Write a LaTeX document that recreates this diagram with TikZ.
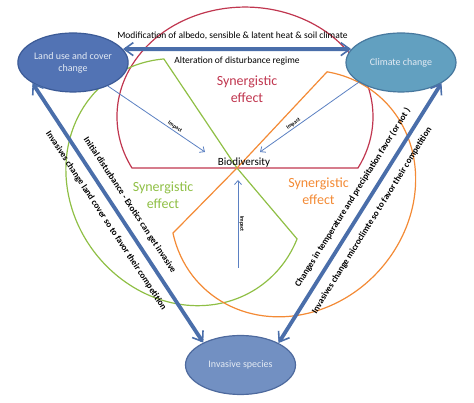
\documentclass[tikz,border=0pt]{standalone}
\usepackage{fontspec}
\setmainfont{Carlito}
\usetikzlibrary{arrows.meta,shapes.geometric}
\definecolor{landfill}{HTML}{5273B4}
\definecolor{landedge}{HTML}{3B5A96}
\definecolor{climfill}{HTML}{62A0C0}
\definecolor{climedge}{HTML}{47789E}
\definecolor{invfill}{HTML}{7290C2}
\definecolor{invedge}{HTML}{4E6A9E}
\definecolor{blobtext}{HTML}{E4EBF4}
\definecolor{arrowblue}{HTML}{4A6EAA}
\definecolor{impblue}{HTML}{5B80C2}
\definecolor{synred}{HTML}{C0364F}
\definecolor{syngreen}{HTML}{8FBF45}
\definecolor{synorange}{HTML}{F38A35}
\begin{document}
\begin{tikzpicture}[x=1pt,y=1pt,
  blob/.style={ellipse,minimum width=110pt,minimum height=59pt,inner sep=0pt,line width=1.2pt,
    text=blobtext,align=center,font=\fontsize{10}{12}\selectfont},
  bigarrow/.style={draw=arrowblue,line width=3.8pt,>={Straight Barb[length=9pt,width=13pt,line width=1.6pt]},<->},
  arrlbl/.style={sloped,font=\fontsize{9}{11}\selectfont\bfseries},
  toplbl/.style={font=\fontsize{9.5}{11}\selectfont},
  impact/.style={draw=impblue,line width=.8pt,-{Straight Barb[length=4pt,width=7pt]}},
  implbl/.style={inner sep=1pt,font=\fontsize{5.5}{6}\selectfont\bfseries},
  seg/.style={line width=1.2pt},
  syn/.style={align=center,font=\fontsize{14}{16.6}\selectfont}]
\useasboundingbox (0,0) rectangle (474,403);
\coordinate (hub) at (237,235);
\begin{scope}[shift={(245,235)}]
\draw[seg,draw=synred] (113,0) arc[start angle=-28,end angle=208,x radius=128pt,y radius=109.5pt] -- (hub) -- cycle;
\end{scope}
\begin{scope}[shift={(230.5,254)},rotate=126.5]
\draw[seg,draw=syngreen] (112,0) arc[start angle=-29,end angle=209,x radius=128pt,y radius=115pt] -- (hub) -- cycle;
\end{scope}
\begin{scope}[shift={(250,250.5)},rotate=-133.7]
\draw[seg,draw=synorange] (111.5,0) arc[start angle=-30.9,end angle=210.9,x radius=130pt,y radius=115.6pt] -- (hub) -- cycle;
\end{scope}
\node[blob,fill=landfill,draw=landedge] (land) at (73,340.5) {Land use and cover\\change};
\node[blob,fill=climfill,draw=climedge] (clim) at (401,340.5) {Climate change};
\node[blob,fill=invfill,draw=invedge] (inv) at (240.5,38) {Invasive species};
\node[font=\fontsize{11}{13}\selectfont] (bio) at (244,240.3) {Biodiversity};
\node[syn,text=synred] (synr) at (247,314) {Synergistic\\effect};
\node[syn,text=syngreen] (syng) at (163,207.5) {Synergistic\\effect};
\node[syn,text=synorange] (syno) at (318.5,212) {Synergistic\\effect};
\draw[bigarrow] (land.15) -- (clim.165)
  node[toplbl,pos=.48,above=4.5pt] (modif) {Modification of albedo, sensible \& latent heat \& soil climate}
  node[toplbl,midway,below=3pt] (alter) {Alteration of disturbance regime};
\draw[bigarrow] (land.207) -- (inv.149)
  node[arrlbl,midway,above=5pt] (initial) {Initial disturbance - Exotics can get invasive}
  node[arrlbl,midway,below=5pt] (invland) {Invasives change land cover so to favor their competition};
\draw[bigarrow] (inv.30) -- (clim.333)
  node[arrlbl,pos=.53,above=5pt] (temp) {Changes in temperature and precipitation favor (or not )}
  node[arrlbl,pos=.5,below=5pt] (invclim) {Invasives change microclimte so to favor their competition};
\coordinate (impw) at (205,251);
\coordinate (impe) at (260,251);
\coordinate (impn) at (238,223);
\coordinate (imps) at (238,135);
\draw[impact] (land.-34) -- (impw) node[implbl,sloped,above,pos=.67] (impwl) {Impact};
\draw[impact] (clim.205) -- (impe) node[implbl,sloped,above,pos=.64] (impel) {Impact};
\draw[impact] (imps) -- (impn) node[implbl,rotate=-90,anchor=south,midway] (impsl) {Impact};
\end{tikzpicture}
\end{document}
